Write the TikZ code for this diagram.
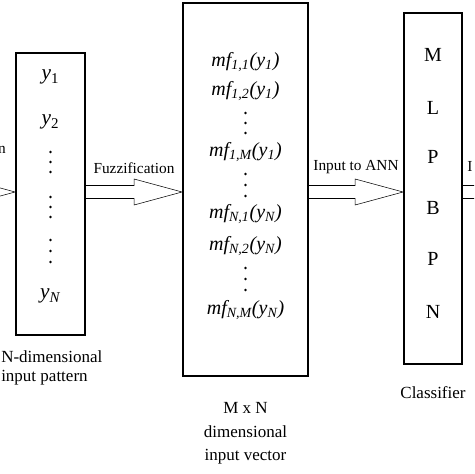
\documentclass[tikz,border=0pt]{standalone}
\usepackage{fontspec}
\setmainfont{Liberation Serif}
\usetikzlibrary{positioning, calc}

\tikzset{
  box/.style={draw, line width=1.4pt, inner sep=0pt},
  fat/.style={line width=0.7pt, to path={($(\tikztostart)+(0,-6.5)$) -- ($(\tikztotarget)+(-48,-6.5)$) -- ($(\tikztotarget)+(-48,-13)$) -- (\tikztotarget) -- ($(\tikztotarget)+(-48,13)$) -- ($(\tikztotarget)+(-48,6.5)$) -- ($(\tikztostart)+(0,6.5)$)}},
  entry/.style={font=\fontsize{15}{18}\selectfont\itshape, inner sep=0pt},
  yvar/.style={font=\fontsize{16}{18}\selectfont, inner sep=0pt},
  letter/.style={font=\fontsize{15}{18}\selectfont, inner sep=0pt},
  arrlbl/.style={font=\fontsize{11.5}{13}\selectfont, inner sep=0pt},
  lbl/.style={font=\fontsize{12.75}{17.5}\selectfont, inner sep=0pt}
}

\begin{document}
\begin{tikzpicture}[x=0.75pt, y=-0.75pt]
\useasboundingbox (0,0) rectangle (474,474);
\clip (0,0) rectangle (474,474);

% boxes
\node[box, minimum width=51.75pt, minimum height=211.5pt] (inbox) at (50.5,194) {};
\node[box, minimum width=93.75pt, minimum height=279.75pt] (vecbox) at (245.5,189.5) {};
\node[box, minimum width=43.5pt, minimum height=263.25pt] (clsbox) at (433,188.5) {};

% input pattern
\node[yvar] (y1) at (50.5,77) {\textit{y}\textsubscript{1}};
\node[yvar] (y2) at (50.5,122) {\textit{y}\textsubscript{2}};
\node[yvar] (yN) at (50.5,296) {\textit{y}\textsubscript{\textit{N}}};
\foreach \y in {152,162,172,197,207,217,240,251,262}
  \fill (50.5,\y) circle (1pt);

% input vector
\node[entry] (m11) at (245.5,62) {mf\textsubscript{1,1}(y\textsubscript{1})};
\node[entry] (m12) at (245.5,91) {mf\textsubscript{1,2}(y\textsubscript{1})};
\node[entry] (m1M) at (245.5,152) {mf\textsubscript{1,M}(y\textsubscript{1})};
\node[entry] (mN1) at (245.5,214) {mf\textsubscript{N,1}(y\textsubscript{N})};
\node[entry] (mN2) at (245.5,246) {mf\textsubscript{N,2}(y\textsubscript{N})};
\node[entry] (mNM) at (245.5,310) {mf\textsubscript{N,M}(y\textsubscript{N})};
\foreach \y in {113,123,133,174,185,196,268,279,290}
  \fill (245.5,\y) circle (1pt);

% classifier
\foreach \l/\y in {M/55,L/108,P/157,B/208,P/259,N/312}
  \node[letter] (c\y) at (433,\y) {\l};

% arrows
\coordinate (ay) at (0,192);
\coordinate (lstart) at (-60,192);
\coordinate (rend) at (540,192);
\draw (lstart) to[fat] (inbox.west |- ay);
\draw (inbox.east |- ay) to[fat] (vecbox.west |- ay);
\draw (vecbox.east |- ay) to[fat] (clsbox.west |- ay);
\draw (clsbox.east |- ay) to[fat] (rend);

\node[arrlbl] (lnlbl) at (2,150) {n};
\node[arrlbl] (fuzlbl) at (134,168) {Fuzzification};
\node[arrlbl] (annlbl) at (356,167) {Input to ANN};
\node[arrlbl, anchor=west] (outlbl) at (467,166) {I};

% captions
\node[lbl, align=left, anchor=west, font=\fontsize{12.75}{14.5}\selectfont] (inlbl) at (1,368) {N-dimensional\\input pattern};
\node[lbl, align=center, below=19pt of vecbox] (veclbl) {M x N\\dimensional\\input vector};
\node[lbl, below=16pt of clsbox] (clslbl) {Classifier};
\end{tikzpicture}
\end{document}
